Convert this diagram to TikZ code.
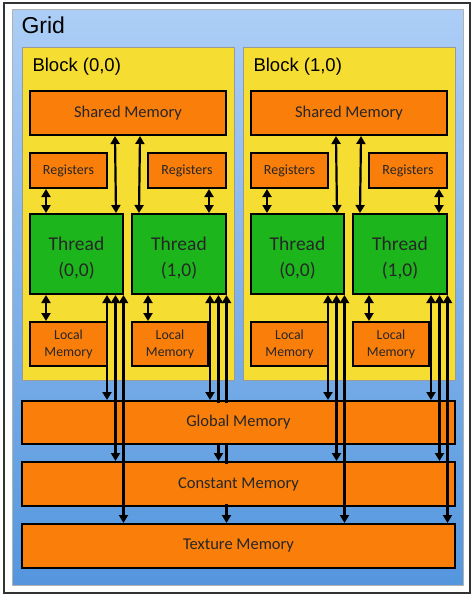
\documentclass[tikz,border=0pt]{standalone}
\usepackage{fontspec}
\setmainfont{Carlito}
\newfontfamily\labelfont{Liberation Sans}
\usetikzlibrary{positioning, arrows.meta}

\definecolor{memorange}{RGB}{250,126,10}
\definecolor{threadgreen}{RGB}{28,182,28}
\definecolor{blockyellow}{RGB}{245,221,50}
\definecolor{gridtop}{RGB}{172,206,246}
\definecolor{gridbottom}{RGB}{84,150,222}

\tikzset{
  mem/.style={draw=black, line width=2pt, fill=memorange, inner sep=0pt, align=center, text=black!85},
  memtext/.style={fill=memorange, inner xsep=30pt, inner ysep=0pt, minimum height=40pt, text=black!85,
    font=\fontsize{16.5}{20}\selectfont},
  thread/.style={draw=black, line width=2pt, fill=threadgreen, inner sep=0pt, align=center, text=black!85,
    minimum height=80pt, text height=44pt, text depth=0pt, font=\fontsize{19.5}{26}\selectfont},
  link/.style={line width=2.2pt, {Triangle[length=8pt,width=9pt]}-{Triangle[length=8pt,width=9pt]}},
}

\begin{document}
\begin{tikzpicture}[x=1pt, y=-1pt]
    \useasboundingbox (0,0) rectangle (474,597);

    % Draw frame and grid
    \draw[line width=2.4pt, black!80] (4,3) rectangle (470,593);
    \node[draw=gray!60, top color=gridtop, bottom color=gridbottom, inner sep=0pt,
      minimum width=451pt, minimum height=576pt, anchor=north west] (grid) at (12,9) {};
    \node[anchor=west, font=\labelfont\fontsize{23}{23}\selectfont] (gridlabel) at (18,25) {Grid};

    % Blocks with their memories and threads
    \foreach \b/\x/\r in {0/22/18, 1/243/9} {
      \node[draw=black!40, line width=0.6pt, fill=blockyellow, inner sep=0pt,
        minimum width=212pt, minimum height=333pt, anchor=north west] (block\b) at (\x,47) {};
      \node[anchor=west, font=\labelfont\fontsize{18.5}{18.5}\selectfont] (blocklabel\b) at (\x+7,67) {Block (\b,0)};

      \node[mem, minimum width=196pt, minimum height=44pt, font=\fontsize{16.5}{20}\selectfont] (sm\b) at (\x+106,113) {Shared Memory};
      \node[mem, minimum width=77pt, minimum height=35pt, font=\fontsize{14}{17}\selectfont] (regl\b) at (\x+46.5,170.5) {Registers};
      \node[mem, minimum width=78pt, minimum height=35pt, font=\fontsize{14}{17}\selectfont] (regr\b) at (\x+165,170.5) {Registers};

      \node[thread, minimum width=93pt] (thl\b) at (\x+54.5,254) {Thread\\(0,0)};
      \node[thread, minimum width=94pt] (thr\b) at (\x+157,254) {Thread\\(1,0)};

      \node[mem, minimum width=77pt, minimum height=44pt, font=\fontsize{13.8}{17}\selectfont] (locl\b) at (\x+46.5,344) {Local\\Memory};
      \node[mem, minimum width=76pt, minimum height=44pt, font=\fontsize{13.8}{17}\selectfont] (locr\b) at (\x+148,344) {Local\\Memory};

      % Shared memory to threads
      \draw[link] ([xshift=-13pt]sm\b.south) -- ([xshift=-8pt]thl\b.north east);
      \draw[link] ([xshift=12pt]sm\b.south) -- ([xshift=8pt]thr\b.north west);

      % Registers to threads
      \draw[link] ([xshift=17pt]regl\b.south west) -- ([xshift=17pt]thl\b.north west);
      \draw[link] ([xshift=-\r pt]regr\b.south east) -- ([xshift=-\r pt]thr\b.north east);
    }

    % Device memories
    \node[mem, minimum width=433pt, minimum height=43pt] (gm) at (238.5,422.5) {};
    \node[mem, minimum width=433pt, minimum height=44pt] (cm) at (238.5,484) {};
    \node[mem, minimum width=433pt, minimum height=44pt] (tm) at (238.5,546) {};

    % Threads to local memory
    \foreach \t/\l in {thl0/locl0, thr0/locr0, thr1/locr1} {
      \draw[link] ([xshift=17pt]\t.south west) -- ([xshift=17pt]\l.north west);
    }

    % Threads to global, constant and texture memory
    \foreach \t in {thl0, thr0, thl1, thr1} {
      \foreach \m/\d in {gm/17, cm/8.5, tm/0.5} {
        \coordinate (\t\m) at ([xshift=-\d pt]\t.south east);
        \draw[link] (\t\m) -- (\t\m |- \m.north);
      }
    }

    % Memory names on their own text boxes
    \foreach \m/\txt in {gm/Global Memory, cm/Constant Memory, tm/Texture Memory} {
      \node[memtext] (\m text) at (\m) {\txt};
    }
\end{tikzpicture}
\end{document}
